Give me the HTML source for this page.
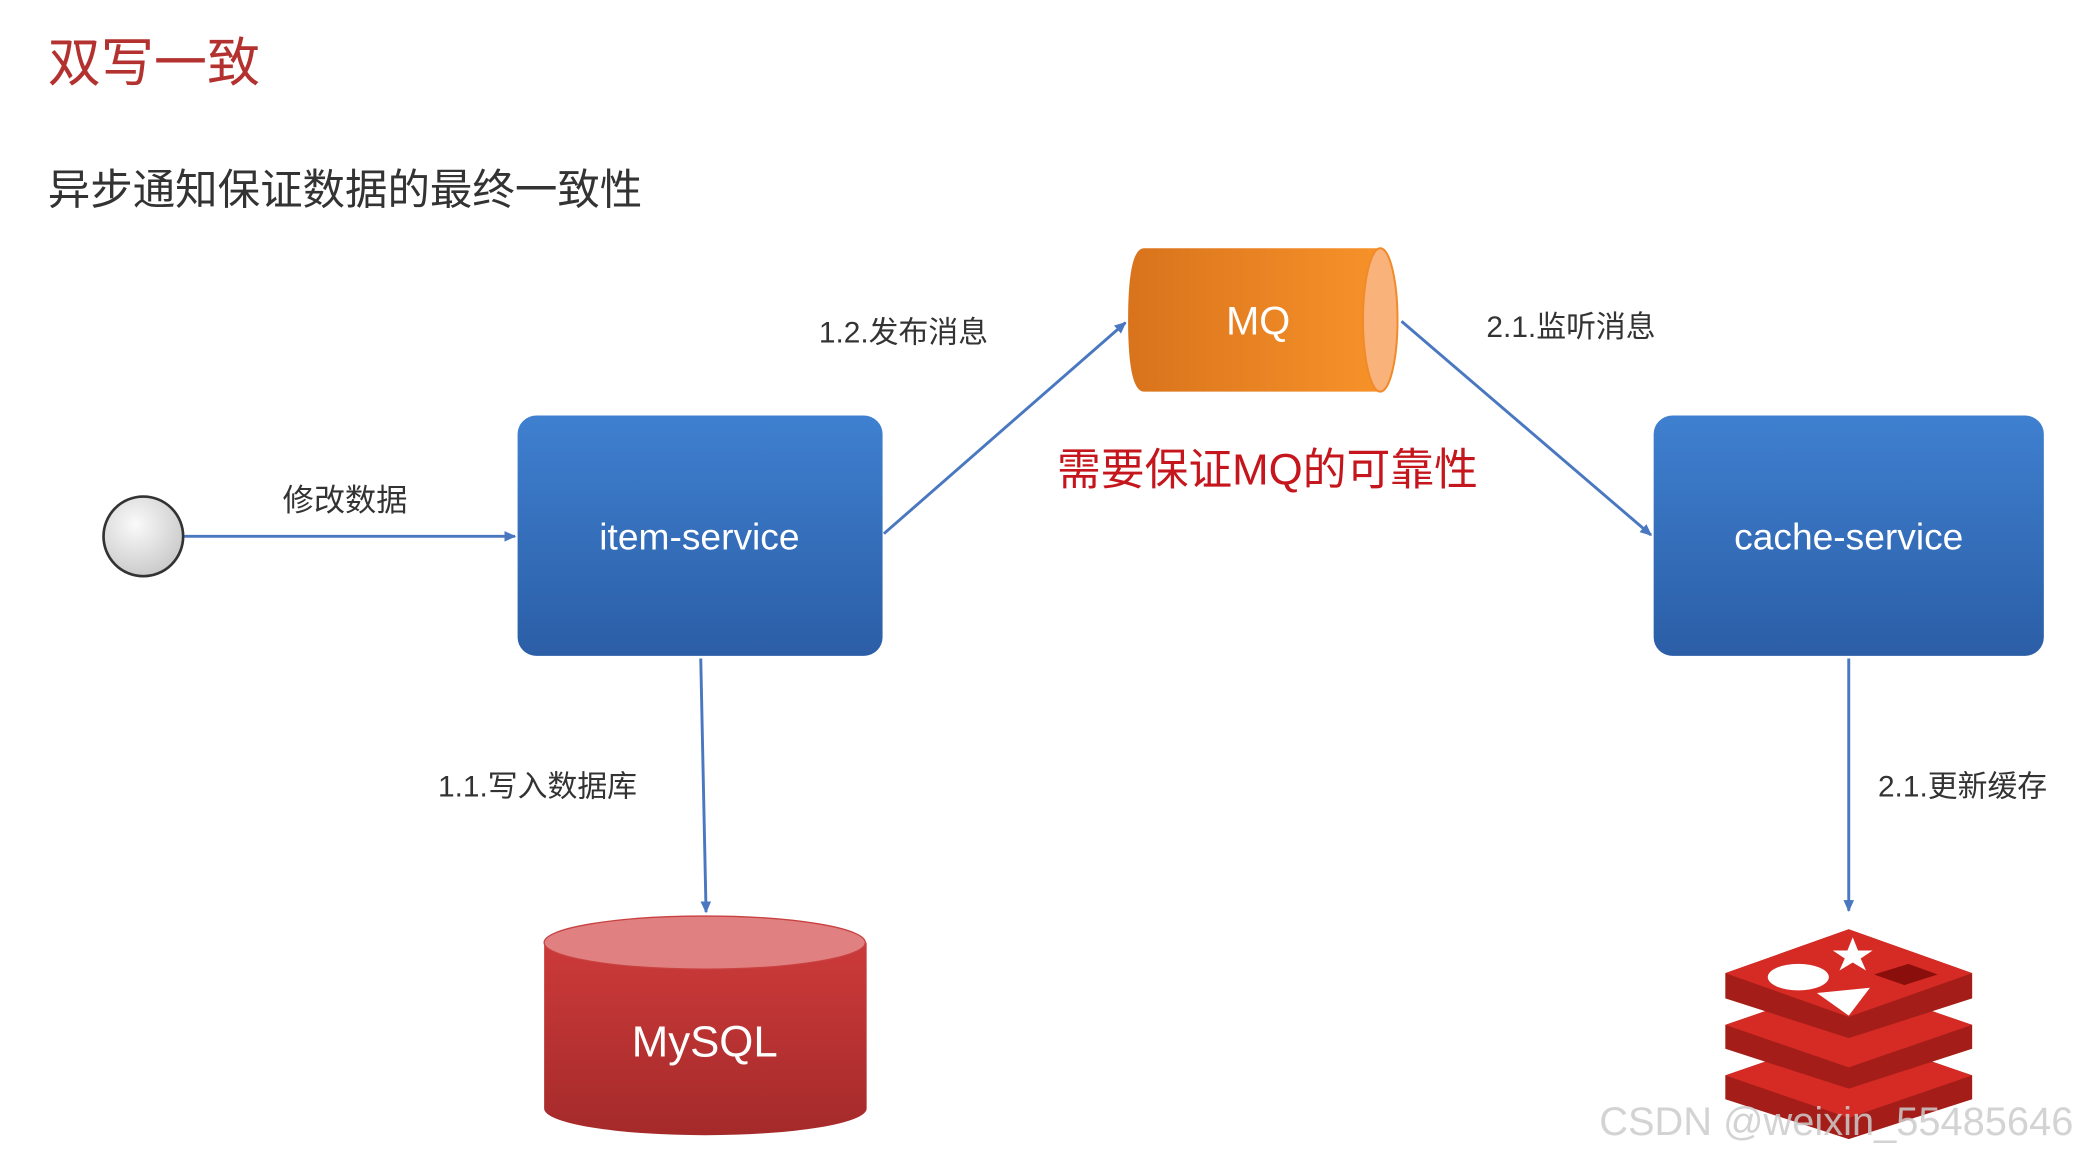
<!DOCTYPE html>
<html><head><meta charset="utf-8"><style>
html,body{margin:0;padding:0;background:#fff;}
svg{display:block;}
text{font-family:"Liberation Sans","Noto Sans CJK SC",sans-serif;}
</style></head><body>
<svg width="2081" height="1155" viewBox="0 0 1568 870" preserveAspectRatio="none" xmlns="http://www.w3.org/2000/svg">
<defs>
<linearGradient id="blue" x1="0" y1="0" x2="0" y2="1"><stop offset="0" stop-color="#3f80d0"/><stop offset="1" stop-color="#2b5ea6"/></linearGradient>
<linearGradient id="orange" x1="0" y1="0" x2="1" y2="0"><stop offset="0" stop-color="#d9731c"/><stop offset="1" stop-color="#f7922a"/></linearGradient>
<linearGradient id="red" x1="0" y1="0" x2="0" y2="1"><stop offset="0" stop-color="#cc3a3a"/><stop offset="1" stop-color="#a52a2a"/></linearGradient>
<radialGradient id="gray" cx="0.4" cy="0.35" r="0.7"><stop offset="0" stop-color="#fafafa"/><stop offset="1" stop-color="#c8c8c8"/></radialGradient>
<marker id="ar" markerWidth="10" markerHeight="10" refX="8" refY="5" orient="auto" markerUnits="userSpaceOnUse"><path d="M0,1 L9,5 L0,9 z" fill="#4a78c0"/></marker>
</defs>
<rect width="1568" height="870" fill="#fff"/>
<text x="36" y="61" font-size="40" fill="#b3322f">双写一致</text>
<text x="36" y="154" font-size="32" fill="#333">异步通知保证数据的最终一致性</text>

<g stroke="#4a78c0" stroke-width="2.2" fill="none" marker-end="url(#ar)">
<line x1="139" y1="404" x2="388" y2="404"/>
<line x1="666" y1="402" x2="848" y2="243"/>
<line x1="1056" y1="242" x2="1244" y2="403"/>
<line x1="528" y1="496" x2="532" y2="687"/>
<line x1="1393" y1="496" x2="1393" y2="686"/>
</g>

<circle cx="108" cy="404" r="30" fill="url(#gray)" stroke="#333" stroke-width="2"/>
<text x="213" y="385" font-size="23.5" fill="#333">修改数据</text>
<text x="617" y="258" font-size="22.5" fill="#333">1.2.发布消息</text>
<text x="1120" y="254" font-size="22.5" fill="#333">2.1.监听消息</text>
<text x="330" y="600" font-size="22.5" fill="#333">1.1.写入数据库</text>
<text x="1415" y="600" font-size="22.5" fill="#333">2.1.更新缓存</text>

<rect x="390" y="313" width="275" height="181" rx="14" fill="url(#blue)"/>
<text x="527" y="414" font-size="28" fill="#fff" text-anchor="middle">item-service</text>
<rect x="1246" y="313" width="294" height="181" rx="14" fill="url(#blue)"/>
<text x="1393" y="414" font-size="28" fill="#fff" text-anchor="middle">cache-service</text>

<path d="M862,187 L1040,187 L1040,295 L862,295 Q850,295 850,241 Q850,187 862,187 z" fill="url(#orange)"/>
<ellipse cx="1040" cy="241" rx="13" ry="54" fill="#f9b27a" stroke="#f08a2a" stroke-width="1.5"/>
<text x="948" y="252" font-size="30" fill="#fff" text-anchor="middle">MQ</text>
<text x="955" y="365" font-size="33" fill="#c4161c" text-anchor="middle">需要保证MQ的可靠性</text>

<path d="M410,710 L410,835 A121,20 0 0 0 653,835 L653,710 z" fill="url(#red)"/>
<ellipse cx="531" cy="710" rx="121" ry="20" fill="#e08080" stroke="#c94040" stroke-width="1"/>
<text x="531" y="796" font-size="33" fill="#fff" text-anchor="middle">MySQL</text>

<g>
<path d="M1300,810 L1393,778 L1486,810 L1486,828 L1393,858 L1300,828 z" fill="#a41d18"/>
<path d="M1300,810 L1393,778 L1486,810 L1393,842 z" fill="#d52b24"/>
<path d="M1300,772 L1393,740 L1486,772 L1486,790 L1393,820 L1300,790 z" fill="#a41d18"/>
<path d="M1300,772 L1393,740 L1486,772 L1393,804 z" fill="#d52b24"/>
<path d="M1300,733 L1393,700 L1486,733 L1486,752 L1393,782 L1300,752 z" fill="#a41d18"/>
<path d="M1300,733 L1393,700 L1486,733 L1393,766 z" fill="#d52b24"/>
<ellipse cx="1355" cy="736" rx="23" ry="10" fill="#fff"/>
<polygon points="1396,706 1400,716 1411,716 1402,722 1406,731 1396,725 1386,731 1390,722 1381,716 1392,716" fill="#fff"/>
<polygon points="1369,748 1409,744 1393,765" fill="#fff"/>
<polygon points="1412,734 1438,726 1460,734 1435,742" fill="#8a0f0c"/>
</g>
<text x="1205" y="855" font-size="30" fill="#ccc" opacity="0.85">CSDN @weixin_55485646</text>
</svg>
</body></html>
